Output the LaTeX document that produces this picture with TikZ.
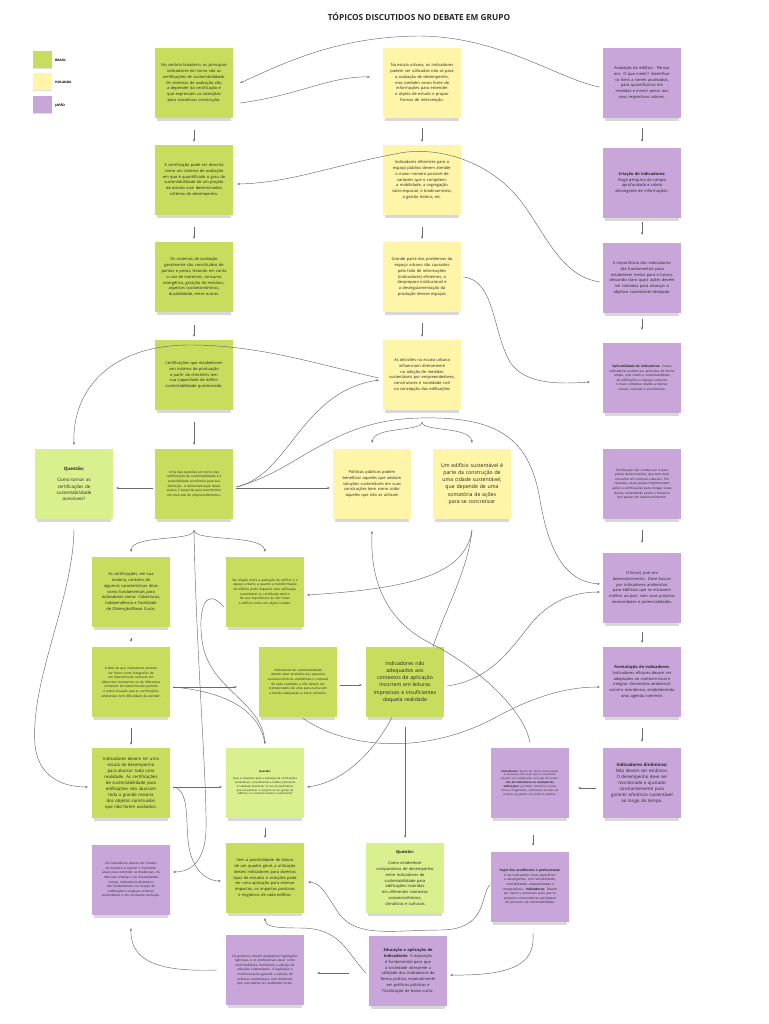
\documentclass[tikz,border=0pt]{standalone}
\usepackage{fontspec}
\setmainfont{Open Sans}
\usetikzlibrary{shadows,arrows.meta}
\definecolor{cgreen}{HTML}{C8DD5E}
\definecolor{clgreen}{HTML}{D8F08E}
\definecolor{cyellow}{HTML}{FFF5A8}
\definecolor{cpurple}{HTML}{C9A6DA}
\definecolor{cline}{HTML}{6A6A6A}
\hyphenpenalty=10000
\exhyphenpenalty=10000
\tikzset{
  note/.style={minimum width=78pt, minimum height=70pt, text width=66pt, align=center, inner sep=0pt,
    drop shadow={shadow xshift=0pt, shadow yshift=-5pt, shadow scale=0.95, opacity=0.3},
    font=\fontsize{4}{5.8}\selectfont, text=black!85},
  gnote/.style={note, fill=cgreen},
  qnote/.style={note, fill=clgreen},
  ynote/.style={note, fill=cyellow},
  pnote/.style={note, fill=cpurple},
  small/.style={font=\fontsize{3.2}{4.6}\selectfont},
  tiny/.style={font=\fontsize{2.7}{3.9}\selectfont},
  big/.style={font=\fontsize{5.2}{7.2}\selectfont},
  arr/.style={draw=cline, line width=0.45pt, -{Stealth[length=2.6pt,width=2.2pt]}},
  ln/.style={draw=cline, line width=0.45pt},
  legbox/.style={minimum width=19pt, minimum height=17pt, inner sep=0pt,
    drop shadow={shadow xshift=0pt, shadow yshift=-1.5pt, opacity=0.25}},
  leglabel/.style={anchor=west, font=\bfseries\fontsize{3.2}{4}\selectfont, inner sep=0pt},
}
\begin{document}
\begin{tikzpicture}[x=1pt,y=-1pt]
\useasboundingbox[fill=white] (0,0) rectangle (768,1024);

% title
\node[font=\bfseries\fontsize{8.3}{10}\selectfont, text=black!85] (title) at (419,17) {TÓPICOS DISCUTIDOS NO DEBATE EM GRUPO};

% legend
\node[legbox, fill=cgreen] (lg1) at (42.5,59.5) {};
\node[legbox, fill=cyellow] (lg2) at (42.5,81.5) {};
\node[legbox, fill=cpurple] (lg3) at (42.5,104.5) {};
\node[leglabel] (lt1) at (55,60) {BRASIL};
\node[leglabel] (lt2) at (55,82) {HOLANDA};
\node[leglabel] (lt3) at (55,105) {JAPÃO};

% column 1 (green)
\node[gnote] (G1) at (194,83) {No cenário brasileiro, os principais indicadores em torno são as certificações de sustentabilidade. Os sistemas de avaliação vão, a depender da certificação e que expressam as intenções para conceituar construção.};
\node[gnote] (G2) at (194,180) {A certificação pode ser descrita como um sistema de avaliação em que é quantificado o grau de sustentabilidade de um projeto de acordo com determinados critérios de desempenho.};
\node[gnote] (G3) at (194,277) {Os sistemas de avaliação geralmente são constituídos de pontos e pesos, levando em conta o uso de materiais, consumo energético, geração de resíduos, aspectos socioeconômicos, durabilidade, entre outros.};
\node[gnote] (G4) at (194,375) {Certificações que estabelecem seu sistema de pontuação a partir de checklists tem sua capacidade de definir sustentabilidade questionada.};
\node[gnote, small] (G5) at (194,484) {Uma das questões em torno das certificações de sustentabilidade é a acessibilidade econômica para sua obtenção. A democratização desse acesso é essencial para transformar um mercado de empreendimentos.};
\node[qnote, text width=52pt, font=\fontsize{4.5}{6.2}\selectfont] (GQ) at (74,484) {\textbf{Questão:}\\[5pt]Como tornar as certificações de sustentabilidade acessíveis?};

% column 2 (yellow)
\node[ynote] (Y1) at (422,83) {Na escala urbana, os indicadores podem ser utilizados não só para a avaliação de desempenho, mas também como fonte de informações para entender o objeto de estudo e propor formas de intervenção.};
\node[ynote] (Y2) at (422,180) {Indicadores eficientes para o espaço público devem atender o maior número possível de variáveis que o compõem: a mobilidade, a segregação sócio-espacial, o biodinamismo, a gestão hídrica, etc.};
\node[ynote] (Y3) at (422,277) {Grande parte dos problemas do espaço urbano são causados pela falta de informações (indicadores) eficientes, o despreparo institucional e a desregulamentação da produção desses espaços};
\node[ynote] (Y4) at (422,375) {As decisões na escala urbana influenciam diretamente na adoção de medidas sustentáveis por empreendedores, construtores e sociedade civil na concepção das edificações};
\node[ynote] (Y5) at (372,484) {Políticas públicas podem beneficiar aqueles que adotam soluções sustentáveis em suas construções bem como coibir aqueles que não as utilizam};
\node[ynote, big] (Y6) at (472,484) {Um edifício sustentável é parte da construção de uma cidade sustentável, que depende de uma somatória de ações para se concretizar};

% column 3 (purple)
\node[pnote] (P1) at (642,83) {Avaliação do edifício - Pensar em: O que medir? Identificar os itens a serem analisados, para quantificá-los em medidas e inserir pesos aos seus respectivos valores.};
\node[pnote, text width=56pt] (P2) at (642,183) {\textbf{Criação de indicadores:}\\Exige pesquisa de campo aprofundada e coleta abrangente de informações.};
\node[pnote] (P3) at (642,278) {A importância dos indicadores: são fundamentais para estabelecer metas para o futuro, deixando claro quais ações devem ser tomadas para alcançar o objetivo sustentável desejado.};
\node[pnote, small] (P4) at (642,378) {\textbf{Aplicabilidade de indicadores:} Certos indicadores podem ser aplicados de forma ampla, mas medir a sustentabilidade de edificações e espaços urbanos é mais complexo devido a fatores sociais, culturais e econômicos.};
\node[pnote, small] (P5) at (642,484) {Certificação são criadas por e para países desenvolvidos, que tem mais consumo em recursos naturais. Em resposta, esses países implementam ações e certificações para mitigar esses danos, estendendo assim o fomento dos países em desenvolvimento.};
\node[pnote] (P6) at (642,588) {O Brasil, país em desenvolvimento. Deve buscar por indicadores ambientais para edifícios que se encaixem melhor ao país, com suas próprias necessidades e potencialidades.};
\node[pnote] (P7) at (642,682) {\textbf{Formulação de indicadores:} Indicadores eficazes devem ser adaptados ao contexto local e integrar dimensões ambiental, social e econômica, estabelecendo uma agenda coerente.};
\node[pnote, font=\fontsize{4.4}{6}\selectfont] (P8) at (642,783) {\textbf{Indicadores dinâmicos:} Não devem ser estáticos. O desempenho deve ser monitorado e ajustado constantemente para garantir eficiência sustentável ao longo do tempo.};

% lower middle
\node[gnote] (G6) at (131,592) {As certificações, em sua maioria, carecem de algumas características ditas como fundamentais para indicadores como: Coberturas, Independência e Facilidade de Obtenção/Baixo Custo.};
\node[gnote, small] (G7) at (265,592) {Na relação entre a avaliação do edifício e o espaço urbano, a quanto a transformação do edifício pode impactar uma edificação sustentável ou certificada dentro de sua importância de não tratar o edifício como um objeto isolado.};
\node[gnote, small] (G8) at (131,682) {A falta de que indicadores possam ser feitos como fotografias de um determinado contexto em diferentes momentos ou de diferentes contextos em determinado período é outra situação que as certificações ambientais tem dificuldade de atender.};
\node[gnote, small] (G9) at (298,682) {Indicadores de sustentabilidade devem estar atrelados aos aspectos socioeconômicos, ambientais e culturais de cada realidade e não devem ser transportados de uma para outra sem a devida adequação a outro contexto.};
\node[gnote, big] (G10) at (405,682) {Indicadores não adequados aos contextos de aplicação incorrem em leituras imprecisas e insuficientes daquela realidade};
\node[gnote, font=\fontsize{4.3}{6}\selectfont] (G11) at (131,783) {Indicadores devem ter uma escala de desempenho para abarcar toda uma realidade. As certificações de sustentabilidade para edificações não abarcam toda a grande maioria dos objetos construídos que não forem avaliados.};
\node[qnote, tiny] (GQ2) at (265,783) {\textbf{Questão:}\\[3pt]Qual a relevância para a avaliação de certificações sustentáveis, considerando a análise pertinente à realidade brasileira? O uso de parâmetros que considerem o conjunto de um grupo de edifícios e o contexto urbano é pertinente?};
\node[pnote, tiny] (P9) at (530,783) {\textbf{Indicadores:} devem ser claros, mensuráveis e acessíveis, de modo que os resultados possam ser comparados ao longo do tempo. \textbf{Uso de indicadores na avaliação de edificações:} permitem identificar pontos fortes e fragilidades, orientando decisões de projeto, de gestão e de políticas públicas.};
\node[pnote, small] (P10) at (131,880) {Os indicadores devem ser criados de maneira a manter o momento atual, para entender as mudanças. As métricas urbanas e as necessidades sociais, indicadores dinâmicos são fundamentais na criação de edificações e espaços urbanos sustentáveis e em constante evolução.};
\node[gnote] (G12) at (265,878) {Sem a possibilidade de leitura de um quadro geral, a utilização destes indicadores para diversos tipos de estudos e soluções pode ser uma aplicação para estimar impactos, os impactos positivos e negativos de cada edifício.};
\node[qnote, text width=60pt] (GQ3) at (405,878) {\textbf{Questão:}\\[5pt]Como estabelecer comparativos de desempenho entre indicadores de sustentabilidade para edificações inseridas em diferentes contextos socioeconômicos, climáticos e culturais};
\node[pnote, small] (P11) at (530,887) {\textbf{Papel dos acadêmicos e profissionais:} Criar indicadores mais específicos e abrangentes, com sensibilidade, confiabilidade, adaptabilidade e transparência. \textbf{Indicadores:} Devem ser claros e acessíveis para que os próprios consumidores participem do processo de sustentabilidade.};
\node[pnote, small] (P12) at (265,970) {Os governos devem estabelecer legislações rigorosas, e os profissionais atuar como intermediários, facilitando a adoção de soluções sustentáveis. A legislação e incentivos para garantir a adoção de práticas sustentáveis, com diretrizes que considerem as realidades locais.};
\node[pnote] (P13) at (408,971) {\textbf{Educação e aplicação de indicadores:} A educação é fundamental para que a sociedade interprete a utilidade dos indicadores de forma prática, especialmente em políticas públicas e fiscalização de baixo custo.};

% short vertical arrows
\draw[arr] ([yshift=-12pt]G1.south) -- ([yshift=3pt]G2.north);
\draw[arr] ([yshift=-12pt]G2.south) -- ([yshift=3pt]G3.north);
\draw[arr] ([yshift=-13pt]G3.south) -- ([yshift=3pt]G4.north);
\draw[arr] ([yshift=-12pt]G4.south) -- ([yshift=4pt]G5.north);
\draw[arr] ([yshift=-10pt]Y1.south) -- ([yshift=3pt]Y2.north);
\draw[arr] ([yshift=-12pt]Y2.south) -- ([yshift=3pt]Y3.north);
\draw[arr] ([yshift=-11pt]Y3.south) -- ([yshift=3pt]Y4.north);
\draw[arr] ([yshift=-10pt]P1.south) -- ([yshift=6pt]P2.north);
\draw[arr] ([yshift=-4pt]P2.south) -- ([yshift=8pt]P3.north);
\draw[arr] ([yshift=-6pt]P3.south) -- ([yshift=13pt]P4.north);
\draw[arr] ([yshift=-11pt]P5.south) -- ([yshift=10pt]P6.north);
\draw[arr] ([yshift=-9pt]P6.south) -- ([yshift=4pt]P7.north);
\draw[arr] ([yshift=-11pt]P7.south) -- ([yshift=6pt]P8.north);
\draw[arr] ([yshift=-11pt]G6.south) -- ([yshift=5pt]G8.north);
\draw[arr] ([yshift=-11pt]G8.south) -- ([yshift=3pt]G11.north);
\draw[arr] ([yshift=-10pt]GQ2.south) -- ([yshift=5pt]G12.north);
\draw[arr] ([xshift=3pt,yshift=-17pt]P9.south) -- ([xshift=3pt,yshift=6pt]P11.north);

% top arc P1 -> G1
\draw[arr] ([xshift=-3pt,yshift=-4pt]P1.west) .. controls (560,80) and (500,36) .. (418,36) .. controls (340,37) and (290,60) .. ([xshift=7pt]G1.east);
% G1 -> Y1
\draw[arr] ([xshift=7pt,yshift=-20pt]G1.east) .. controls (300,95) and (330,76) .. ([xshift=-13pt,yshift=6pt]Y1.west);
% P3 -> G2
\draw[arr] ([xshift=-3pt,yshift=-4pt]P3.west) .. controls (560,276) and (545,232) .. (520,200) .. controls (490,162) and (440,146) .. (400,153) .. controls (330,166) and (290,183) .. ([xshift=4pt,yshift=-4pt]G2.east);
% Y3 -> P4
\draw[arr] ([xshift=2pt]Y3.east) .. controls (495,280) and (492,330) .. (510,362) .. controls (525,385) and (560,384) .. ([xshift=-13pt,yshift=-4pt]P4.west);
% Y4 brace -> Y5, Y6
\coordinate (br) at ([yshift=-47pt]Y4.center);
\draw[arr] (br) .. controls (422,432) and (374,426) .. ([yshift=6pt]Y5.north);
\draw[arr] (br) .. controls (422,432) and (470,426) .. ([yshift=6pt]Y6.north);
% Y4 -> GQ arc
\draw[arr] ([xshift=-4pt,yshift=-3pt]Y4.west) .. controls (320,365) and (260,345) .. (190,345) .. controls (110,345) and (72,390) .. ([yshift=4pt]GQ.north);
% G5 -> GQ
\draw[arr] ([xshift=-2pt,yshift=-4pt]G5.west) -- ([xshift=3pt,yshift=-4pt]GQ.east);
% G5 -> Y5
\draw[arr] ([xshift=3pt,yshift=-4pt]G5.east) -- ([xshift=-3pt,yshift=-4pt]Y5.west);
% G5 -> Y4
\draw[arr] ([xshift=3pt,yshift=-3pt]G5.east) .. controls (290,475) and (300,392) .. ([xshift=-4pt,yshift=-5pt]Y4.west);
% G5 -> P6
\draw[arr] ([xshift=3pt,yshift=-3pt]G5.east) .. controls (300,470) and (330,420) .. (420,418) .. controls (500,416) and (530,440) .. (540,500) .. controls (550,560) and (570,582) .. ([xshift=-3pt,yshift=4pt]P6.west);
% GQ -> G11
\draw[arr] ([yshift=-10pt]GQ.south) .. controls (73,600) and (30,680) .. (35,745) .. controls (38,775) and (60,787) .. ([xshift=-4pt,yshift=-4pt]G11.west);
% G5 -> G6, G7
\coordinate (br2) at ([yshift=-11pt]G5.south);
\draw[arr] (br2) .. controls (194,542) and (132,534) .. ([yshift=5pt]G6.north);
\draw[arr] (br2) .. controls (194,542) and (263,534) .. ([yshift=5pt]G7.north);
% G5 -> P10
\draw[arr] (br2) .. controls (196,650) and (207,780) .. (206,830) .. controls (205,860) and (192,872) .. ([xshift=3pt,yshift=8pt]P10.east);
% G7 -> GQ2
\draw[arr] ([xshift=-2pt,yshift=-15pt]G7.west) .. controls (205,585) and (198,610) .. (202,640) .. controls (208,690) and (262,700) .. ([yshift=4pt]GQ2.north);
% G8 -> GQ2
\draw[ln] ([xshift=3pt,yshift=-5pt]G8.east) .. controls (205,690) and (258,700) .. ([yshift=4pt]GQ2.north);
% G8 -> G9
\draw[arr] ([xshift=3pt,yshift=-5pt]G8.east) -- ([xshift=-22pt,yshift=-5pt]G9.west);
% G9 -> G10
\draw[arr] ([xshift=3pt,yshift=-3pt]G9.east) -- ([xshift=-4pt,yshift=-3pt]G10.west);
% G9 -> P7
\draw[arr] ([xshift=5pt,yshift=-1pt]G9.south) .. controls (340,745) and (420,760) .. (500,715) .. controls (540,694) and (570,687) .. ([xshift=-3pt,yshift=-5pt]P7.west);
% G10 -> P6
\draw[arr] ([xshift=3pt,yshift=-4pt]G10.east) .. controls (490,680) and (510,650) .. (530,625) .. controls (550,600) and (575,592) .. ([xshift=-3pt,yshift=-4pt]P6.west);
% Y6 -> G10
\draw[ln] ([yshift=-11pt]Y6.south) .. controls (468,570) and (445,610) .. ([xshift=28pt]G10.north);
% Y6 -> G7
\draw[arr] ([yshift=-11pt]Y6.south) .. controls (465,572) and (420,588) .. ([xshift=3pt,yshift=-3pt]G7.east);
% G10 -> GQ2
\draw[arr] ([xshift=-13pt]G10.south) .. controls (375,750) and (345,782) .. ([xshift=3pt,yshift=-4pt]GQ2.east);
% G10 -> GQ3
\draw[arr] ([yshift=-10pt]G10.south) -- ([yshift=5pt]GQ3.north);
% P9 -> Y5
\draw[arr] ([yshift=5pt]P9.north) .. controls (525,712) and (480,668) .. (430,643) .. controls (385,620) and (370,580) .. ([yshift=-12pt]Y5.south);
% G11 -> GQ2
\draw[arr] ([xshift=3pt,yshift=-4pt]G11.east) -- ([xshift=-4pt,yshift=-4pt]GQ2.west);
% G11 -> G12
\draw[arr] ([xshift=3pt,yshift=-4pt]G11.east) .. controls (192,790) and (184,830) .. (190,852) .. controls (196,875) and (210,881) .. ([xshift=-5pt,yshift=-3pt]G12.west);
% P11 -> G12
\draw[arr] ([xshift=-1pt,yshift=2pt]P11.west) .. controls (480,895) and (488,930) .. (440,930) .. controls (395,930) and (358,938) .. (340,915) .. controls (326,895) and (322,883) .. ([xshift=4pt,yshift=-4pt]G12.east);
% P13 -> G12
\draw[arr] ([xshift=-3pt,yshift=-2pt]P13.west) .. controls (345,950) and (340,928) .. (300,928) .. controls (272,928) and (265,926) .. ([yshift=-5pt]G12.south);
% P13 -> P12
\draw[arr] ([xshift=-20pt,yshift=-2pt]P13.west) -- ([xshift=13pt,yshift=-3pt]P12.east);
% P11 -> P13
\draw[arr] ([xshift=3pt,yshift=-11pt]P11.south) .. controls (535,960) and (520,976) .. ([xshift=3pt,yshift=-4pt]P13.east);
% P12 -> P10
\draw[arr] ([xshift=-9pt]P12.west) .. controls (160,972) and (130,962) .. ([yshift=-13pt]P10.south);
% P8 -> P9
\draw[arr] ([xshift=-7pt,yshift=-5pt]P8.west) -- ([xshift=9pt,yshift=-5pt]P9.east);

\end{tikzpicture}
\end{document}
